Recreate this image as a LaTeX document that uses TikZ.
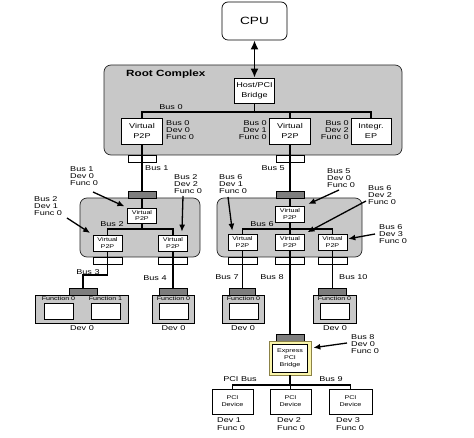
\documentclass[tikz,border=0pt]{standalone}
\usepackage{fontspec}
\setmainfont{Liberation Sans}[FakeStretch=1.3]
\usepackage{xcolor}
\usetikzlibrary{shapes}
\usetikzlibrary{positioning}
\usetikzlibrary{arrows.meta}
\definecolor{boxgray}{RGB}{200,200,200}
\definecolor{portgray}{RGB}{125,125,125}
\definecolor{bridgeyellow}{RGB}{250,245,170}
\definecolor{bridgeolive}{RGB}{140,130,70}

\begin{document}
\begin{tikzpicture}[x=1pt,y=-1pt,>={Latex[length=7pt,width=6pt]}]
	\tikzstyle{frame}=[draw=black!85,fill=boxgray,line width=0.7pt,rounded corners=7pt,inner sep=0pt]
	\tikzstyle{box}=[draw=black,fill=white,line width=0.7pt,inner sep=0pt,align=center,font=\fontsize{7}{9.5}\selectfont]
	\tikzstyle{sbox}=[box,minimum width=29pt,minimum height=16pt,font=\fontsize{5.5}{6.5}\selectfont]
	\tikzstyle{port}=[draw=black,fill=white,line width=0.7pt,inner sep=0pt,minimum width=28pt,minimum height=7pt]
	\tikzstyle{dport}=[port,fill=portgray]
	\tikzstyle{dev}=[draw=black,fill=boxgray,line width=0.7pt,inner sep=0pt,minimum height=28pt]
	\tikzstyle{txt}=[inner sep=0pt,align=left,font=\fontsize{7}{7}\selectfont]
	\tikzstyle{ftxt}=[inner sep=0pt,font=\fontsize{5.5}{6}\selectfont]
	\tikzstyle{bus}=[draw=black,line width=1.8pt]
	\tikzstyle{callout}=[draw=black,line width=1.3pt,->,shorten >=3pt]

	\useasboundingbox (0,0) rectangle (474,438);

	% CPU and root complex
	\node [frame,minimum width=298pt,minimum height=90pt] (rc) at (253,110) {};
	\node [inner sep=0pt,anchor=west,font=\fontsize{9}{9}\selectfont\bfseries] (rclab) at (126,74) {Root Complex};
	\node [box,rounded corners=6pt,minimum width=65pt,minimum height=38pt,font=\fontsize{10.5}{11}\selectfont] (cpu) at (254.5,21) {CPU};
	\node [box,minimum width=40pt,minimum height=25pt] (hb) at (254.5,90.5) {Host/PCI\\Bridge};
	\node [box,minimum width=41pt,minimum height=26pt] (vp1) at (142,131) {Virtual\\P2P};
	\node [box,minimum width=41pt,minimum height=26pt] (vp2) at (290,131) {Virtual\\P2P};
	\node [box,minimum width=40pt,minimum height=26pt] (ep) at (371,131) {Integr.\\EP};
	\node [txt,anchor=west] (l1) at (166,130) {Bus 0\\Dev 0\\Func 0};
	\node [txt,anchor=east,align=right] (l2) at (267,130) {Bus 0\\Dev 1\\Func 0};
	\node [txt,anchor=east,align=right] (l3) at (349,130) {Bus 0\\Dev 2\\Func 0};
	\node [txt] (bus0) at (171,107) {Bus 0};
	\node [port] (pt1) at (142,158.5) {};
	\node [port] (pt2) at (290,158.5) {};

	% left switch
	\node [frame,minimum width=120pt,minimum height=59pt] (sw1) at (140,227.5) {};
	\node [dport] (sp1) at (142,194.5) {};
	\node [sbox,minimum height=15pt] (s1u) at (142,215.5) {Virtual\\P2P};
	\node [sbox] (s1a) at (107.5,243) {Virtual\\P2P};
	\node [sbox] (s1b) at (173,243) {Virtual\\P2P};
	\node [port,minimum width=29pt] (pa) at (107.5,260.5) {};
	\node [port,minimum width=29pt] (pb) at (173,260.5) {};
	\node [txt,anchor=west] (bus1) at (145,168) {Bus 1};
	\node [txt] (bus2) at (112,224) {Bus 2};
	\node [txt] (bus3) at (88,272) {Bus 3};
	\node [txt] (bus4) at (155,278) {Bus 4};

	% right switch
	\node [frame,minimum width=145pt,minimum height=59pt] (sw2) at (289.5,227.5) {};
	\node [dport] (sp2) at (290,194.5) {};
	\node [sbox] (s2u) at (290,214) {Virtual\\P2P};
	\node [sbox] (s2a) at (242.5,242) {Virtual\\P2P};
	\node [sbox] (s2b) at (290,242) {Virtual\\P2P};
	\node [sbox] (s2c) at (332.5,242) {Virtual\\P2P};
	\node [port,minimum width=29pt] (pc) at (242.5,260.5) {};
	\node [port,minimum width=29pt] (pd) at (290,260.5) {};
	\node [port,minimum width=29pt] (pe) at (332.5,260.5) {};
	\node [txt,anchor=east] (bus5) at (285,168) {Bus 5};
	\node [txt] (bus6) at (262,224) {Bus 6};
	\node [txt] (bus7) at (227,277) {Bus 7};
	\node [txt] (bus8) at (272,277) {Bus 8};
	\node [txt,anchor=west] (bus10) at (339,277) {Bus 10};

	% endpoints
	\node [dev,minimum width=93pt] (d1) at (81.5,309) {};
	\node [dport] (dp1) at (83,292) {};
	\node [sbox] (f1a) at (58.5,311) {};
	\node [sbox] (f1b) at (105.5,311) {};
	\node [ftxt] at (58.5,299) {Function 0};
	\node [ftxt] at (105.5,299) {Function 1};
	\node [txt] at (82,328) {Dev 0};

	\node [dev,minimum width=42pt] (d2) at (173.5,309) {};
	\node [dport] (dp2) at (173,292) {};
	\node [sbox] (f2) at (173.5,311) {};
	\node [ftxt] at (173.5,299) {Function 0};
	\node [txt] at (173.5,328) {Dev 0};

	\node [dev,minimum width=42pt] (d3) at (243.5,309) {};
	\node [dport,minimum width=26pt] (dp3) at (242.5,292) {};
	\node [sbox] (f3) at (243.5,311) {};
	\node [ftxt] at (243.5,299) {Function 0};
	\node [txt] at (243,328) {Dev 0};

	\node [dev,minimum width=43pt] (d4) at (334.5,309) {};
	\node [dport] (dp4) at (332.5,292) {};
	\node [sbox] (f4) at (334.5,311) {};
	\node [ftxt] at (334.5,299) {Function 0};
	\node [txt] at (335,328) {Dev 0};

	% express bridge and PCI bus
	\node [dport] (xp) at (290,337.5) {};
	\node [draw=bridgeolive,fill=bridgeyellow,line width=0.7pt,inner sep=0pt,minimum width=42pt,minimum height=34pt] (xb) at (290,358) {};
	\node [box,minimum width=35pt,minimum height=28pt,font=\fontsize{5.5}{7}\selectfont] (xi) at (290,358) {Express\\PCI\\Bridge};
	\node [box,minimum width=41pt,minimum height=25pt,font=\fontsize{5.5}{7}\selectfont] (p1) at (232.5,401.5) {PCI\\Device};
	\node [box,minimum width=41pt,minimum height=25pt,font=\fontsize{5.5}{7}\selectfont] (p2) at (290.5,401.5) {PCI\\Device};
	\node [box,minimum width=43pt,minimum height=25pt,font=\fontsize{5.5}{7}\selectfont] (p3) at (350.5,401.5) {PCI\\Device};
	\node [txt] (pcibus) at (240,379) {PCI Bus};
	\node [txt] (bus9) at (331,379) {Bus 9};
	\node [txt,anchor=west,font=\fontsize{7}{8}\selectfont] at (217,424) {Dev 1\\Func 0};
	\node [txt,anchor=west,font=\fontsize{7}{8}\selectfont] at (277,424) {Dev 2\\Func 0};
	\node [txt,anchor=west,font=\fontsize{7}{8}\selectfont] at (336,424) {Dev 3\\Func 0};

	% buses
	\coordinate (b0) at (0,112);
	\coordinate (b2) at (0,229);
	\coordinate (b3) at (0,275);
	\coordinate (b6) at (0,229);
	\coordinate (b9) at (0,385);
	\draw [{Latex[length=9pt,width=8pt]}-{Latex[length=9pt,width=8pt]},line width=1.8pt] (cpu.south) -- (hb.north);
	\path [bus] (hb.south) -- (hb.south |- b0);
	\path [bus] (vp1.north) -- (vp1.north |- b0) -| (ep.north);
	\path [bus] (vp2.north) -- (vp2.north |- b0);
	\path [bus] (vp1.south) -- (sp1.north);
	\path [bus] (sp1.south) -- (s1u.north);
	\path [bus] (s1u.south) -- (s1u.south |- b2);
	\path [bus] (s1a.north) -- (s1a.north |- b2) -| (s1b.north);
	\path [bus] (s1a.south) -- (s1a.south |- b3) -| (dp1.north);
	\path [bus] (s1b.south) -- (dp2.north);
	\path [bus] (vp2.south) -- (sp2.north);
	\path [bus] (sp2.south) -- (s2u.north);
	\path [bus] (s2u.south) -- (s2u.south |- b6);
	\path [bus] (s2a.north) -- (s2a.north |- b6) -| (s2c.north);
	\path [bus] (s2b.north) -- (s2b.north |- b6);
	\path [bus] (s2a.south) -- (dp3.north);
	\path [bus] (s2b.south) -- (xp.north);
	\path [bus] (s2c.south) -- (dp4.north);
	\path [bus] (xb.south) -- (xb.south |- b9);
	\path [bus] (p1.north) -- (p1.north |- b9) -| (p3.north);
	\path [bus] (p2.north) -- (p2.north |- b9);

	% callouts
	\node [txt,anchor=west] (n1) at (70,176) {Bus 1\\Dev 0\\Func 0};
	\node [txt,anchor=west] (n2) at (34,206) {Bus 2\\Dev 1\\Func 0};
	\node [txt,anchor=west] (n3) at (174,184) {Bus 2\\Dev 2\\Func 0};
	\node [txt,anchor=west] (n4) at (219,184) {Bus 6\\Dev 1\\Func 0};
	\node [txt,anchor=west] (n5) at (327,178) {Bus 5\\Dev 0\\Func 0};
	\node [txt,anchor=west] (n6) at (368,195) {Bus 6\\Dev 2\\Func 0};
	\node [txt,anchor=west] (n7) at (379,234) {Bus 6\\Dev 3\\Func 0};
	\node [txt,anchor=west] (n8) at (351,344) {Bus 8\\Dev 0\\Func 0};
	\coordinate (c1) at (93,192);
	\coordinate (c2) at (67,218);
	\coordinate (c3) at (183,196);
	\coordinate (c4) at (228,197);
	\coordinate (c5) at (339,190);
	\coordinate (c6) at (366,201);
	\coordinate (c7) at (375,234);
	\coordinate (c8) at (347,343);
	\path [callout] (c1) -- (s1u.north west);
	\path [callout] (c2) -- (s1a.north west);
	\path [callout] (c3) -- ([xshift=-6]s1b.north east);
	\path [callout] (c4) -- ([xshift=5]s2a.north west);
	\path [callout,shorten >=4pt] (c5) -- (s2u.north east);
	\path [callout] (c6) -- (s2b.north east);
	\path [callout,shorten >=1pt] (c7) -- ([yshift=3]s2c.east);
	\path [callout,shorten >=2pt] (c8) -- ([yshift=10]xb.east);

\end{tikzpicture}
\end{document}
